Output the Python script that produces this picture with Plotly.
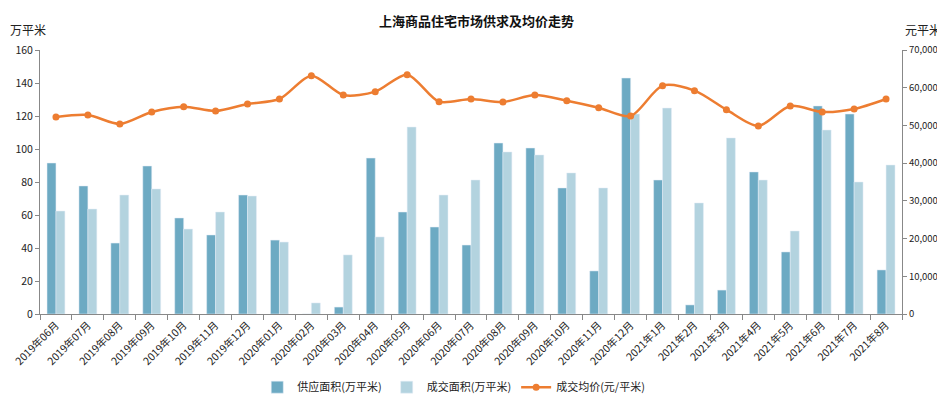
import plotly.graph_objects as go

months = ["2019年06月", "2019年07月", "2019年08月", "2019年09月", "2019年10月", "2019年11月",
          "2019年12月", "2020年01月", "2020年02月", "2020年03月", "2020年04月", "2020年05月",
          "2020年06月", "2020年07月", "2020年08月", "2020年09月", "2020年10月", "2020年11月",
          "2020年12月", "2021年1月", "2021年2月", "2021年3月", "2021年4月", "2021年5月",
          "2021年6月", "2021年7月", "2021年8月"]
supply = [91.5, 77.6, 43.0, 89.7, 58.2, 47.9, 72.1, 44.8, 0, 4.2, 94.5, 61.8,
          52.7, 41.8, 103.6, 100.6, 76.4, 26.1, 143.0, 81.2, 5.5, 14.5, 86.1, 37.6,
          126.1, 121.2, 26.7]
deal = [62.4, 63.6, 72.1, 75.8, 51.5, 61.8, 71.5, 43.6, 6.7, 35.8, 46.7, 113.3,
        72.1, 81.2, 98.2, 96.4, 85.5, 76.4, 121.2, 124.8, 67.3, 106.7, 81.2, 50.3,
        111.5, 80.0, 90.3]
price = [52235, 52770, 50379, 53560, 54970, 53826, 55682, 57008, 63190, 58068, 58952, 63456,
         56296, 57008, 56210, 58068, 56561, 54705, 52500, 60540, 59216, 54175, 49850, 55152,
         53560, 54357, 57008]

FONT = "Noto Sans CJK SC, Liberation Sans, sans-serif"
AX = "#888888"

fig = go.Figure()
fig.add_trace(go.Bar(x=months, y=supply, name="供应面积(万平米)", marker_color="#6DAAC3"))
fig.add_trace(go.Bar(x=months, y=deal, name="成交面积(万平米)", marker_color="#B3D3DF"))
fig.add_trace(go.Scatter(x=months, y=price, name="成交均价(元/平米)", yaxis="y2",
                         mode="lines+markers", line=dict(color="#ED7D31", width=2.5, shape="spline", smoothing=0.8),
                         marker=dict(size=7, color="#ED7D31")))

# page body adds an 8px offset; figure sized so it ends at the window edges
fig.update_layout(
    width=937, height=387,
    margin=dict(l=32, r=43, t=42, b=81, autoexpand=False),
    paper_bgcolor="white", plot_bgcolor="white",
    font=dict(family=FONT, size=11, color="#222222"),
    title=dict(text="<b>上海商品住宅市场供求及均价走势</b>", x=0.5, xanchor="center", y=0.978, yanchor="top",
               pad=dict(t=0), font=dict(size=13, color="#111111")),
    barmode="group", bargap=0.44, bargroupgap=0,
    showlegend=True,
    legend=dict(orientation="h", x=0.48, xanchor="center", y=-0.277, yanchor="middle",
                font=dict(size=11), itemwidth=30, bgcolor="rgba(0,0,0,0)"),
    xaxis=dict(type="category", range=[-0.5, len(months) - 0.5], tickangle=-45, showline=True,
               linecolor=AX, linewidth=1, ticks="outside", tickcolor=AX, ticklen=5,
               tickson="boundaries", automargin=False, showgrid=False, tickfont=dict(size=10.5)),
    yaxis=dict(range=[0, 160], dtick=20, showline=True, linecolor=AX, linewidth=1, automargin=False,
               ticks="outside", tickcolor=AX, ticklen=4, showgrid=False, zeroline=False,
               tickfont=dict(size=10.5)),
    yaxis2=dict(range=[0, 70000], dtick=10000, overlaying="y", side="right", showline=True,
                linecolor=AX, linewidth=1, ticks="outside", tickcolor=AX, ticklen=4, automargin=False,
                showgrid=False, zeroline=False, tickformat=",d", tickfont=dict(size=9.5)),
    annotations=[
        dict(text="万平米", xref="paper", yref="paper", x=-0.037, y=1.076, xanchor="left", yanchor="middle",
             showarrow=False, font=dict(size=12)),
        dict(text="元平米", xref="paper", yref="paper", x=1.047, y=1.076, xanchor="right", yanchor="middle",
             showarrow=False, font=dict(size=12)),
    ],
)

fig.write_html("out.html")
